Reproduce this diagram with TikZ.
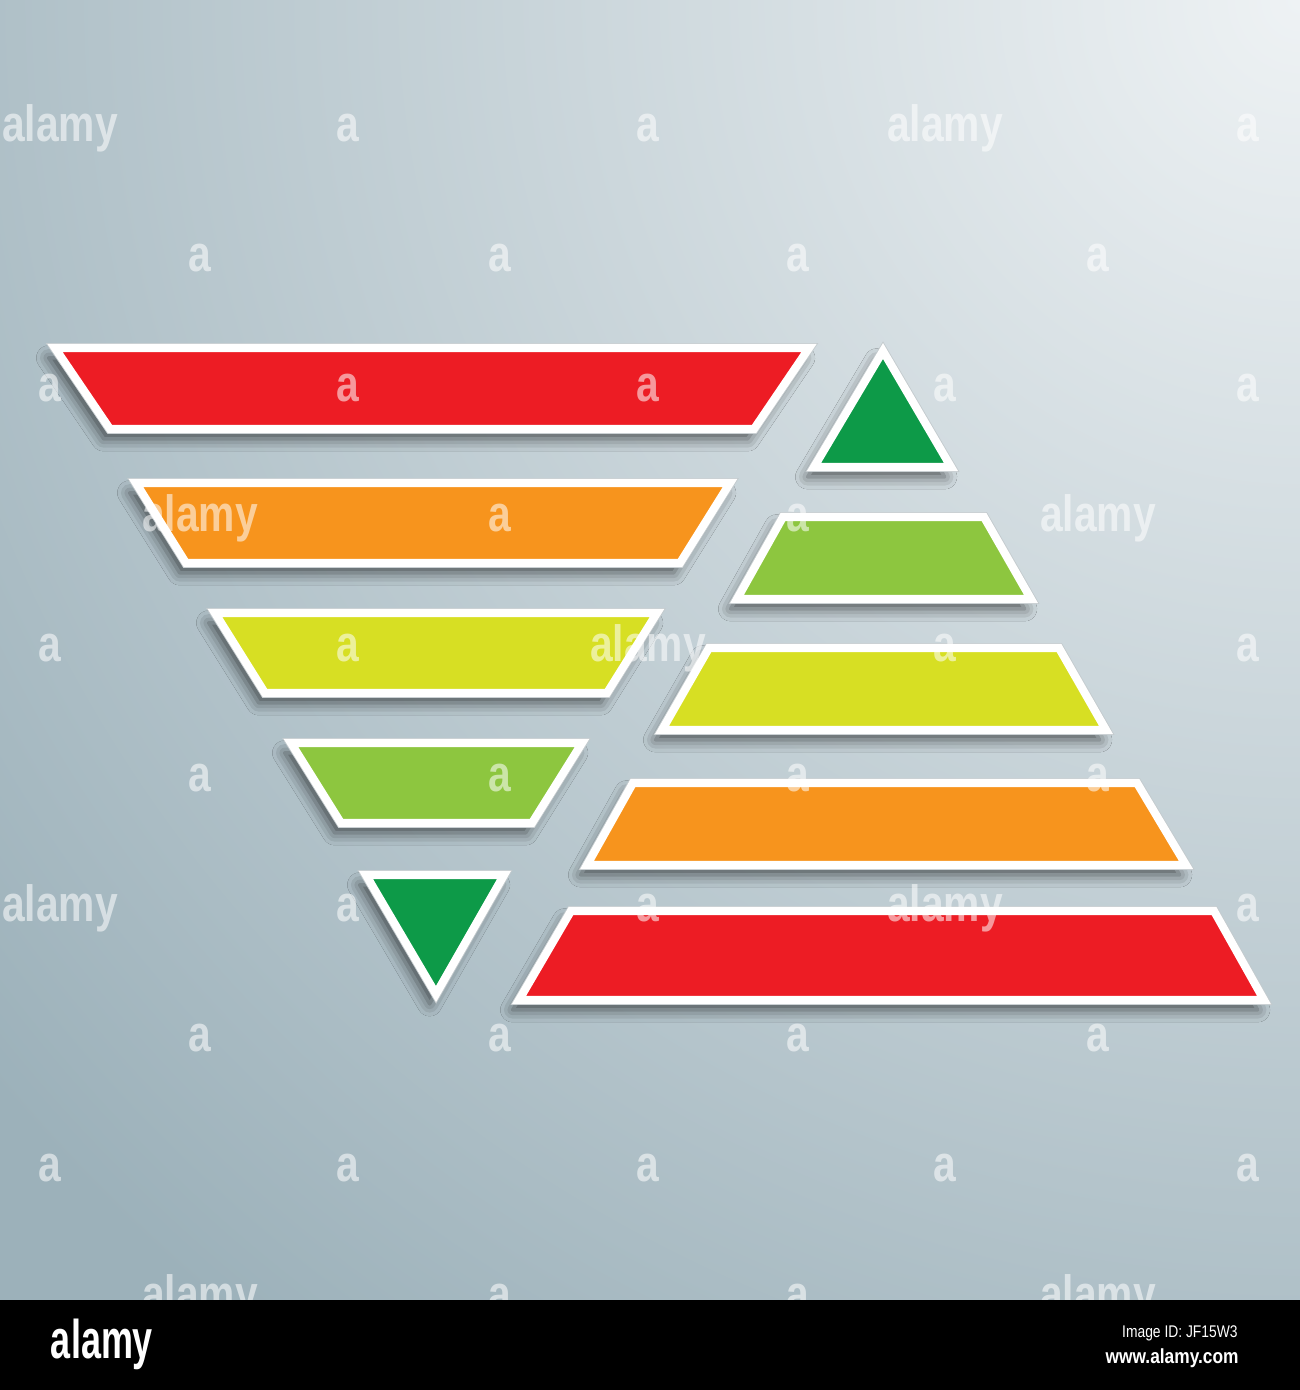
\documentclass[tikz,border=0pt]{standalone}
\usepackage{fontspec}
\setmainfont{Liberation Sans}
\usetikzlibrary{shadows.blur}
\definecolor{bglight}{HTML}{EEF2F4}
\definecolor{bgdark}{HTML}{9CB1BA}
\definecolor{rimgray}{HTML}{C4CBCE}
\definecolor{barred}{HTML}{ED1C24}
\definecolor{barorange}{HTML}{F7941D}
\definecolor{baryellow}{HTML}{D7DF23}
\definecolor{barlime}{HTML}{8DC63F}
\definecolor{bargreen}{HTML}{0D9A48}
\begin{document}
\begin{tikzpicture}[x=0.01cm,y=-0.01cm,line join=miter]
\tikzset{band/.style={blur shadow={shadow xshift=-1.8pt,shadow yshift=-2.8pt,shadow blur radius=3.5pt,shadow opacity=60},
	preaction={draw=rimgray,line width=2.8pt},fill=#1,draw=white,line width=2.3pt},
	wmark/.style={text=white,opacity=0.55,font=\bfseries\fontsize{14.5}{15}\selectfont,inner sep=0pt}}
\useasboundingbox (0,0) rectangle (1300,1390);
\begin{scope}
\clip (0,0) rectangle (1300,1300);
\fill[bgdark] (0,0) rectangle (1300,1300);
\shade[inner color=bglight,outer color=bgdark] (1300,0) circle (1700);
% left stack, wide end on top
\foreach \c/\ax/\ay/\bx/\by/\cx/\cy/\dx/\dy in {
	barred/55/348/809/348/754/429/110/429,
	barorange/136/483/730/483/680/563/186/563,
	baryellow/215/613/657/613/607/693/265/693,
	barlime/291/743/582/743/532/823/341/823}
	\draw[band=\c] (\ax,\ay)--(\bx,\by)--(\cx,\cy)--(\dx,\dy)--cycle;
\draw[band=bargreen] (366,875)--(504,875)--(436,994)--cycle;
% right stack, wide end at the bottom
\draw[band=bargreen] (883,351)--(951,467)--(814,467)--cycle;
\foreach \c/\ax/\ay/\bx/\by/\cx/\cy/\dx/\dy in {
	barlime/783/517/984/517/1031/599/737/599,
	baryellow/709/648/1059/648/1106/730/662/730,
	barorange/633/783/1137/783/1186/865/587/865,
	barred/571/911/1214/911/1264/1000/519/1000}
	\draw[band=\c] (\ax,\ay)--(\bx,\by)--(\cx,\cy)--(\dx,\dy)--cycle;
% watermark
\foreach \wx/\wy/\wt in {60/128/alamy,348/128/a,648/128/a,945/128/alamy,1248/128/a,
	200/258/a,500/258/a,798/258/a,1098/258/a,
	50/388/a,348/388/a,648/388/a,945/388/a,1248/388/a,
	200/518/alamy,500/518/a,798/518/a,1098/518/alamy,
	50/648/a,348/648/a,648/648/alamy,945/648/a,1248/648/a,
	200/778/a,500/778/a,798/778/a,1098/778/a,
	60/908/alamy,348/908/a,648/908/a,945/908/alamy,1248/908/a,
	200/1038/a,500/1038/a,798/1038/a,1098/1038/a,
	50/1168/a,348/1168/a,648/1168/a,945/1168/a,1248/1168/a,
	200/1298/alamy,500/1298/a,798/1298/a,1098/1298/alamy}
	\node[wmark] (wm-\wx-\wy) at (\wx,\wy) {\scalebox{0.8}[1]{\wt}};
\end{scope}
% footer
\fill[black] (0,1300) rectangle (1300,1390);
\node[text=white,font=\bfseries\fontsize{15.5}{16}\selectfont] (logo) at (102,1344) {\scalebox{0.66}[1]{alamy}};
\node[text=white,anchor=east,font=\fontsize{4.8}{5}\selectfont] (imgid) at (1250,1333) {\scalebox{0.82}[1]{Image ID: JF15W3}};
\node[text=white,anchor=east,font=\bfseries\fontsize{5.8}{6}\selectfont] (site) at (1251,1358) {\scalebox{0.85}[1]{www.alamy.com}};
\end{tikzpicture}
\end{document}
